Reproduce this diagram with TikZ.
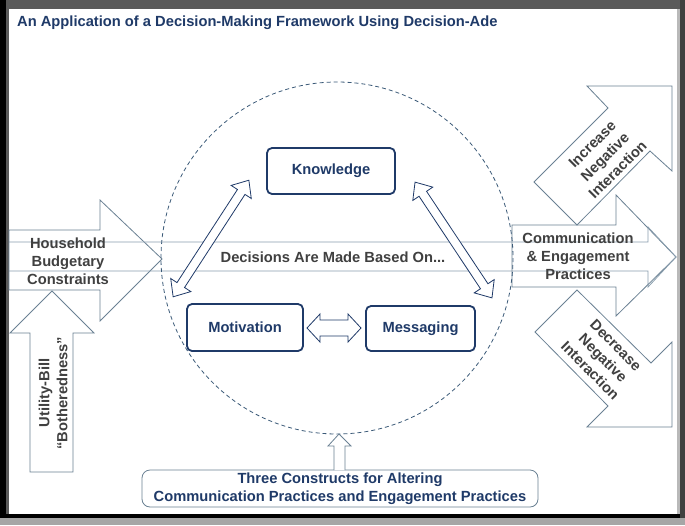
\documentclass[tikz,border=0pt]{standalone}
\usepackage{fontspec}
\setmainfont{Liberation Sans}
\definecolor{navy}{HTML}{1F3A68}
\definecolor{arrowc}{HTML}{6A8193}
\definecolor{bandc}{HTML}{8A9EAE}
\definecolor{circc}{HTML}{3B5A78}
\definecolor{graytxt}{HTML}{404040}
\definecolor{framec}{HTML}{5A5A5A}
\begin{document}
\begin{tikzpicture}[x=1pt,y=-1pt,
  outarrow/.style={draw=arrowc, fill=white, line width=0.8pt, line join=miter},
  bandline/.style={draw=bandc, line width=0.8pt},
  navybox/.style={draw=navy, fill=white, line width=1.8pt, rounded corners=5pt, inner sep=0pt},
  navytext/.style={text=navy, font=\bfseries\fontsize{14.7}{18}\selectfont, align=center},
  graytext/.style={text=graytxt, font=\bfseries\fontsize{14.7}{18}\selectfont, align=center},
  dblarrow/.style={draw=navy, fill=white, line width=0.8pt, line join=miter},
  constbox/.style={draw=arrowc, fill=white, line width=0.8pt, rounded corners=8pt, inner sep=0pt}
]
\useasboundingbox (0,0) rectangle (685,525);
% frame
\fill[framec] (0,0) rectangle (685,525);
\fill[black] (0,0) rectangle (6,518);
\fill[black] (6,514) rectangle (681,518);
\fill[gray!70] (0,518) rectangle (685,525);
\fill[black!75] (680,0) rectangle (685,518);
\fill[gray!55] (677,9) rectangle (680,514);
\fill[white] (9,9) rectangle (677,514);

% title
\node[navytext, anchor=base west, inner sep=0pt] (title) at (17,26) {An Application of a Decision-Making Framework Using Decision-Ade};

% big outer arrows
\draw[outarrow] (9,230) -- (100,230) -- (100,200) -- (162,259) -- (100,321) -- (100,290) -- (9,290) -- cycle;
\draw[outarrow] (30,472) -- (30,333) -- (10,333) -- (52,291) -- (94,333) -- (73,333) -- (73,472) -- cycle;
\draw[outarrow] (512,225) -- (616,225) -- (616,195) -- (676,257) -- (616,316) -- (616,287) -- (512,287) -- cycle;
\draw[outarrow] (534,182) -- (608,108) -- (587,86) -- (672,86) -- (672,171) -- (650,151) -- (577,225) -- cycle;
\draw[outarrow] (535,332) -- (577,290) -- (651,363) -- (672,342) -- (672,427) -- (587,427) -- (608,406) -- cycle;

% band
\draw[bandline] (9,242) -- (648,242) -- (648,227) -- (676,257) -- (648,287) -- (648,271) -- (9,271);

% circle
\draw[circc, line width=0.8pt, dash pattern=on 4pt off 3pt] (337,258) circle[radius=176];

% boxes
\node[navybox, minimum width=128pt, minimum height=46pt] (know) at (331,171) {};
\node[navybox, minimum width=116pt, minimum height=47pt] (motiv) at (245,327.5) {};
\node[navybox, minimum width=109pt, minimum height=45pt] (mess) at (420.5,328.5) {};
\node[navytext] at (know.center) {Knowledge};
\node[navytext] at (motiv.center) {Motivation};
\node[navytext] at (mess.center) {Messaging};

% double arrows
\begin{scope}[shift={(334,328)}]
\draw[dblarrow] (-27,0) -- (-14,14) -- (-14,8) -- (14,8) -- (14,14) -- (27,0) -- (14,-14) -- (14,-8) -- (-14,-8) -- (-14,-14) -- cycle;
\end{scope}
\begin{scope}[shift={(211,238.5)}, rotate=57]
\draw[dblarrow] (-69.5,0) -- (-55.5,12) -- (-55.5,4.5) -- (55.5,4.5) -- (55.5,12) -- (69.5,0) -- (55.5,-12) -- (55.5,-4.5) -- (-55.5,-4.5) -- (-55.5,-12) -- cycle;
\end{scope}
\begin{scope}[shift={(453.5,240)}, rotate=-56.4]
\draw[dblarrow] (-69.5,0) -- (-55.5,12) -- (-55.5,4.5) -- (55.5,4.5) -- (55.5,12) -- (69.5,0) -- (55.5,-12) -- (55.5,-4.5) -- (-55.5,-4.5) -- (-55.5,-12) -- cycle;
\end{scope}

% bottom box and small arrow
\node[constbox, minimum width=396pt, minimum height=37pt] (constr) at (340,488.5) {};
\node[navytext] at (constr.center) {Three Constructs for Altering\\Communication Practices and Engagement Practices};
\draw[outarrow] (334,470) -- (334,446) -- (328,446) -- (339,434) -- (351,446) -- (345,446) -- (345,470);

% labels
\node[graytext] (dec) at (333,257) {Decisions Are Made Based On...};
\node[graytext] (house) at (68,261) {Household\\Budgetary\\Constraints};
\node[graytext, rotate=90] (util) at (53,393) {Utility-Bill\\“Botheredness”};
\node[graytext] (comm) at (578,256) {Communication\\\& Engagement\\Practices};
\node[graytext, rotate=45] (incr) at (605,157) {Increase\\Negative\\Interaction};
\node[graytext, rotate=-45] (decr) at (603,358) {Decrease\\Negative\\Interaction};
\end{tikzpicture}
\end{document}
